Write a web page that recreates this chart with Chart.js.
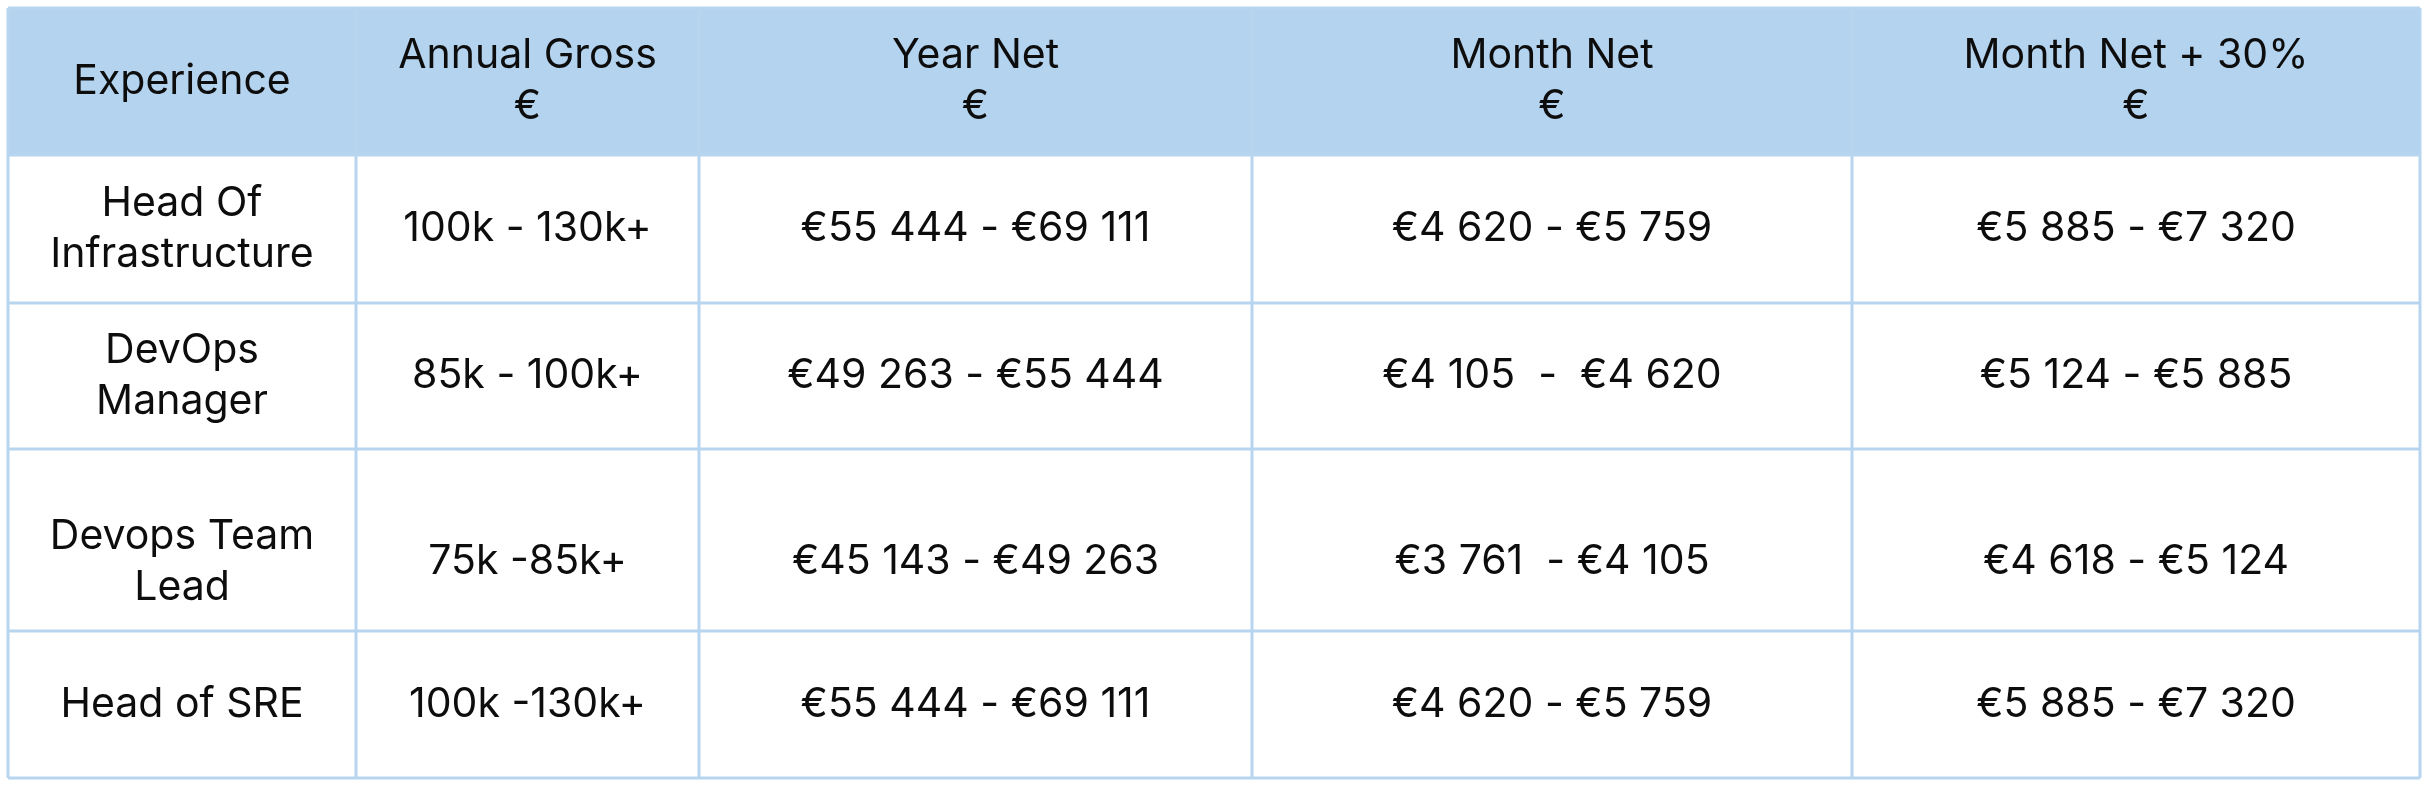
<!DOCTYPE html>
<html><head><meta charset="utf-8">
<script src="https://cdn.jsdelivr.net/npm/chart.js@4"></script>
<style>html,body{margin:0;padding:0;background:#fff}#w{width:2426px;height:786px}</style>
</head><body><div id="w"><canvas id="c"></canvas></div>
<script>
const headers = ["Experience", "Annual Gross\n€", "Year Net\n€", "Month Net\n€", "Month Net + 30%\n€"];
const experience = ["Head Of\nInfrastructure", "DevOps\nManager", "Devops Team\nLead", "Head of SRE"];
const annualGross = ["100k - 130k+", "85k - 100k+", "75k -85k+", "100k -130k+"];
const yearNet = ["€55 444 - €69 111", "€49 263 - €55 444", "€45 143 - €49 263", "€55 444 - €69 111"];
const monthNet = ["€4 620 - €5 759", "€4 105  -  €4 620", "€3 761  - €4 105", "€4 620 - €5 759"];
const monthNet30 = ["€5 885 - €7 320", "€5 124 - €5 885", "€4 618 - €5 124", "€5 885 - €7 320"];

// layout (fractions of table area)
const colEdges = [0, 348, 691, 1244, 1844, 2412].map(v => v / 2412);
const rowEdges = [0, 147, 295, 441, 623, 770].map(v => v / 770);

const tablePlugin = {
  id: 'table',
  afterDraw(chart) {
    const ctx = chart.ctx, xs = chart.scales.x, ys = chart.scales.y;
    const X = v => xs.getPixelForValue(v), Y = v => ys.getPixelForValue(v);
    const cols = [experience, annualGross, yearNet, monthNet, monthNet30];
    ctx.save();
    ctx.fillStyle = '#b4d3ef';
    ctx.fillRect(X(0), Y(rowEdges[0]), X(1) - X(0), Y(rowEdges[1]) - Y(rowEdges[0]));
    ctx.strokeStyle = '#b8d5f0';
    ctx.lineWidth = 3;
    ctx.beginPath();
    rowEdges.forEach(r => { ctx.moveTo(X(0), Y(r)); ctx.lineTo(X(1), Y(r)); });
    colEdges.forEach(c => { ctx.moveTo(X(c), Y(0)); ctx.lineTo(X(c), Y(1)); });
    ctx.stroke();
    ctx.fillStyle = '#0d0d0d';
    ctx.font = '400 41px Inter, "Open Sans", sans-serif';
    ctx.textAlign = 'center';
    ctx.textBaseline = 'middle';
    const lh = 51;
    const cell = (txt, ci, ri) => {
      const cx = (X(colEdges[ci]) + X(colEdges[ci + 1])) / 2;
      let cy = (Y(rowEdges[ri]) + Y(rowEdges[ri + 1])) / 2;
      if (ri === 3) cy += 22;
      const lines = txt.split('\n');
      lines.forEach((l, i) => ctx.fillText(l, cx, cy + (i - (lines.length - 1) / 2) * lh));
    };
    headers.forEach((h, ci) => cell(h, ci, 0));
    cols.forEach((col, ci) => col.forEach((t, ri) => cell(t, ci, ri + 1)));
    ctx.restore();
  }
};

new Chart(document.getElementById('c'), {
  type: 'scatter',
  data: { datasets: [] },
  options: {
    responsive: true, maintainAspectRatio: false, animation: false,
    layout: { padding: { left: 8, right: 6, top: 8, bottom: 8 } },
    plugins: { legend: { display: false }, tooltip: { enabled: false } },
    scales: {
      x: { type: 'linear', min: 0, max: 1, display: false },
      y: { type: 'linear', min: 0, max: 1, reverse: true, display: false }
    }
  },
  plugins: [tablePlugin]
});
</script></body></html>
